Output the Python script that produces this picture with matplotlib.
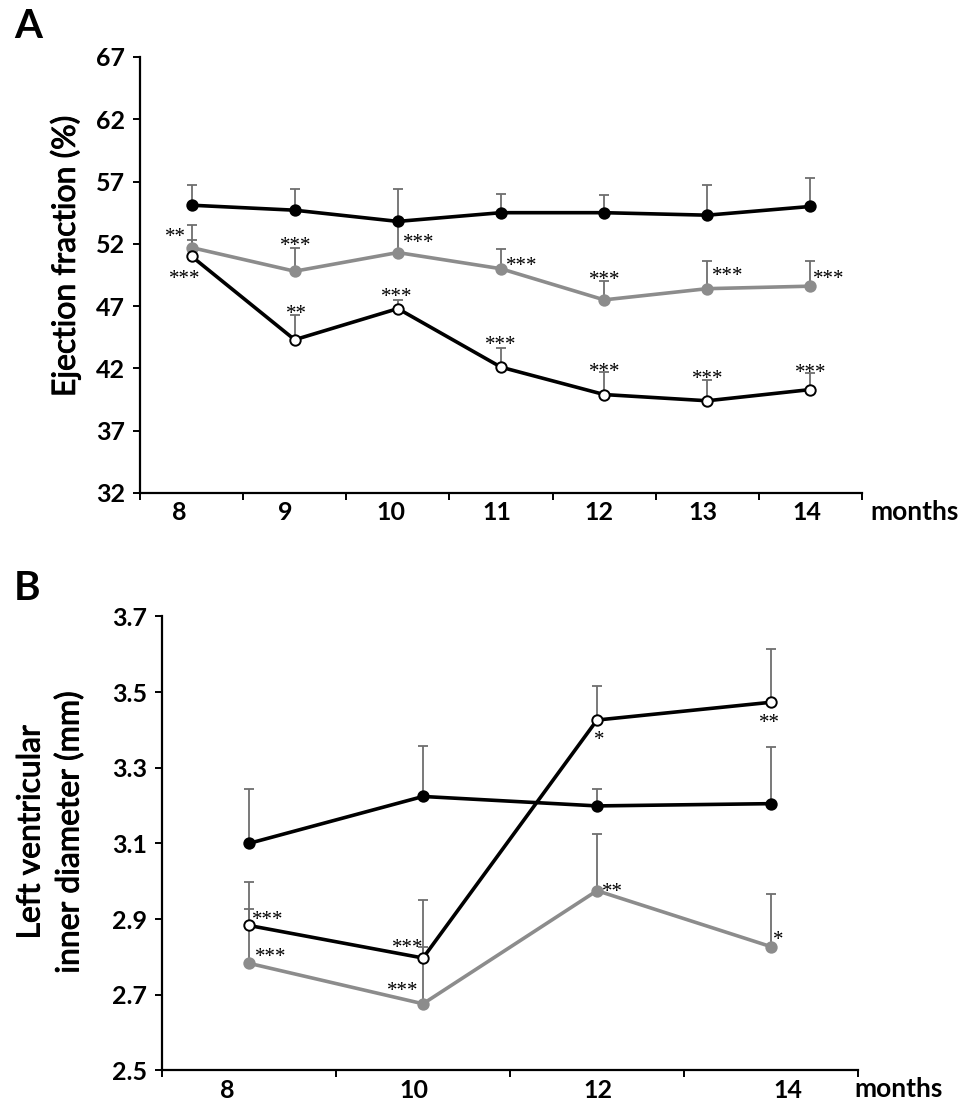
"""Ejection fraction and LV inner diameter over time (panels A and B)."""

import numpy as np
import matplotlib.pyplot as plt
import matplotlib.patheffects as pe

plt.rcParams["font.family"] = ["Lato", "DejaVu Sans"]

# ---- panel A: ejection fraction (%) ----
months_a = [8, 9, 10, 11, 12, 13, 14]
ef_ctrl = [55.1, 54.7, 53.8, 54.5, 54.5, 54.3, 55.0]
ef_ctrl_err = [1.6, 1.7, 2.6, 1.5, 1.4, 2.4, 2.3]
ef_gray = [51.7, 49.8, 51.3, 50.0, 47.5, 48.4, 48.6]
ef_gray_err = [1.8, 1.9, 2.5, 1.6, 1.5, 2.2, 2.0]
ef_open = [51.0, 44.3, 46.8, 42.1, 39.9, 39.4, 40.3]
ef_open_err = [1.3, 2.0, 0.7, 1.5, 1.8, 1.7, 1.3]
ef_gray_sig = ["**", "***", "***", "***", "***", "***", "***"]
ef_open_sig = ["***", "**", "***", "***", "***", "***", "***"]
ef_ticks = [32, 37, 42, 47, 52, 57, 62, 67]

# ---- panel B: left ventricular inner diameter (mm) ----
months_b = [8, 10, 12, 14]
lv_ctrl = [3.10, 3.224, 3.199, 3.205]
lv_ctrl_err = [0.144, 0.133, 0.044, 0.15]
lv_open = [2.883, 2.797, 3.426, 3.473]
lv_open_err = [0.115, 0.153, 0.091, 0.142]
lv_gray = [2.783, 2.676, 2.975, 2.827]
lv_gray_err = [0.144, 0.15, 0.149, 0.14]
lv_open_sig = ["***", "***", "*", "**"]
lv_gray_sig = ["***", "***", "**", "*"]
lv_ticks = [2.5, 2.7, 2.9, 3.1, 3.3, 3.5, 3.7]

# where the asterisks sit relative to their point (months, data units)
ef_gray_off = [(-0.16, 1.3), (0.01, 2.5), (0.2, 1.25), (0.2, 0.7),
               (0.01, 2.08), (0.2, 1.5), (0.18, 1.04)]
ef_open_off = [(-0.07, -1.36), (0.02, 2.53), (-0.01, 1.37), (0.0, 2.2),
               (0.01, 2.24), (0.0, 2.2), (0.0, 1.77)]
lv_open_off = [(0.22, 0.029), (-0.18, 0.041), (0.03, -0.038), (-0.02, -0.039)]
lv_gray_off = [(0.25, 0.033), (-0.23, 0.048), (0.18, 0.012), (0.08, 0.034)]
# the month labels in the original sit a little off the points
ef_label_shift = [-0.12, -0.09, -0.07, -0.04, -0.05, -0.04, -0.03]
lv_label_shift = [-0.25, -0.11, 0.01, 0.2]

GRAY = "#8c8c8c"
ERR = "#6e6e6e"
MEDIUM = [pe.withStroke(linewidth=0.7, foreground="black")]


def draw_series(ax, x, y, err, color, face):
    ax.errorbar(x, y, yerr=[np.zeros(len(err)), err], fmt="none", ecolor=ERR,
                elinewidth=1.3, capsize=3.5, capthick=1.3, zorder=2)
    ax.plot(x, y, color=color, lw=2.6, marker="o", ms=7.5, mfc=face,
            mec="black" if face == "white" else color, mew=1.4, zorder=3)


def add_sig(ax, x, y, marks, offsets):
    for xi, yi, m, (dx, dy) in zip(x, y, marks, offsets):
        ax.annotate(m, (xi + dx, yi + dy), xytext=(0, -4.5), textcoords="offset points",
                    ha="center", va="center", fontsize=15,
                    family="Liberation Serif", zorder=4)


def style_axes(ax, xlim, ticks, shift, yticks, ylabels):
    for side in ("top", "right"):
        ax.spines[side].set_visible(False)
    for side in ("left", "bottom"):
        ax.spines[side].set_linewidth(1.6)
    step = ticks[1] - ticks[0]
    ax.set_xlim(*xlim)
    ax.set_xticks([t + s for t, s in zip(ticks, shift)])
    ax.set_xticklabels([str(t) for t in ticks], fontsize=18, fontweight="bold")
    ax.set_xticks(np.arange(xlim[0], xlim[1] + 0.01, step), minor=True)
    ax.tick_params(axis="x", which="major", length=0, pad=6)
    ax.tick_params(axis="x", which="minor", length=5, width=1.4, direction="out")
    ax.set_yticks(yticks)
    ax.set_yticklabels(ylabels, fontsize=18, fontweight="bold")
    ax.tick_params(axis="y", length=5, width=1.4, direction="out", pad=6)


fig = plt.figure(figsize=(9.72, 11.13), dpi=100)

# panel A
ax_a = fig.add_axes([0.1440, 0.5571, 0.7428, 0.3917])
draw_series(ax_a, months_a, ef_ctrl, ef_ctrl_err, "black", "black")
draw_series(ax_a, months_a, ef_gray, ef_gray_err, GRAY, GRAY)
draw_series(ax_a, months_a, ef_open, ef_open_err, "black", "white")
add_sig(ax_a, months_a, ef_gray, ef_gray_sig, ef_gray_off)
add_sig(ax_a, months_a, ef_open, ef_open_sig, ef_open_off)
style_axes(ax_a, (7.5, 14.5), months_a, ef_label_shift, ef_ticks,
           [str(t) for t in ef_ticks])
ax_a.set_ylim(32, 67)

# panel B
ax_b = fig.add_axes([0.1667, 0.0383, 0.7160, 0.4079])
draw_series(ax_b, months_b, lv_ctrl, lv_ctrl_err, "black", "black")
draw_series(ax_b, months_b, lv_gray, lv_gray_err, GRAY, GRAY)
draw_series(ax_b, months_b, lv_open, lv_open_err, "black", "white")
add_sig(ax_b, months_b, lv_open, lv_open_sig, lv_open_off)
add_sig(ax_b, months_b, lv_gray, lv_gray_sig, lv_gray_off)
style_axes(ax_b, (7, 15), months_b, lv_label_shift, lv_ticks,
           [f"{t:.1f}" for t in lv_ticks])
ax_b.set_ylim(2.5, 3.7)

# labels
fig.text(14 / 972, 1 - 38 / 1113, "A", fontsize=29, fontweight="bold", va="baseline")
fig.text(14 / 972, 1 - 600 / 1113, "B", fontsize=29, fontweight="bold", va="baseline")
fig.text(65 / 972, 1 - 256 / 1113, "Ejection fraction (%)", rotation=90,
         ha="center", va="center", fontsize=23, path_effects=MEDIUM)
fig.text(50 / 972, 1 - 832 / 1113, "Left ventricular\ninner diameter (mm)", rotation=90,
         ha="center", va="center", fontsize=23, path_effects=MEDIUM,
         linespacing=1.35, multialignment="center")
fig.text(915 / 972, 1 - 512 / 1113, "months", ha="center", va="center",
         fontsize=19, fontweight="bold")
fig.text(899 / 972, 1 - 1089 / 1113, "months", ha="center", va="center",
         fontsize=19, fontweight="bold")

fig.savefig("out.png", dpi=100, facecolor="white")
